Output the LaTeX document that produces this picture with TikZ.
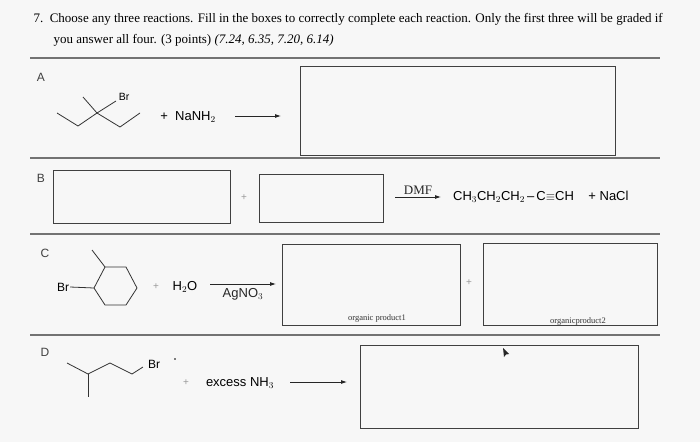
\documentclass[tikz,border=0pt]{standalone}
\usepackage{fontspec}
\usetikzlibrary{arrows.meta}
\setmainfont{Liberation Serif}
\setsansfont{Liberation Sans}
\begin{document}
\begin{tikzpicture}[x=1pt,y=-1pt,
  bx/.style={draw=black!75,line width=0.9pt},
  sep/.style={draw=black!55,line width=1.3pt},
  bnd/.style={draw=black!80,line width=0.8pt},
  rx/.style={-{Latex[length=6pt,width=4pt]},line width=0.8pt,black!85},
  ch/.style={font=\sffamily\fontsize{13}{15}\selectfont,inner sep=1pt},
  lb/.style={font=\sffamily\fontsize{12}{14}\selectfont,black!75},
  gp/.style={font=\sffamily\fontsize{10}{12}\selectfont,black!40},
  sm/.style={font=\fontsize{8.5}{9}\selectfont,black!80}]
\useasboundingbox[fill=black!3] (0,0) rectangle (700,442);
\node[anchor=west,font=\fontsize{13}{15}\selectfont] (t1) at (30,19) {7.\ \ Choose any three reactions. Fill in the boxes to correctly complete each reaction. Only the first three will be graded if};
\node[anchor=west,font=\fontsize{13}{15}\selectfont] (t2) at (50,40) {you answer all four. (3 points) \textit{(7.24, 6.35, 7.20, 6.14)}};
\draw[sep] (30,58) -- (660,58);
\draw[sep] (30,158) -- (660,158);
\draw[sep] (30,234) -- (660,234);
\draw[sep] (30,335) -- (660,335);
% A
\node[lb] (la) at (41,77) {A};
\draw[bnd] (57,113) -- (78,126) -- (97,113) -- (120,127) -- (140,113);
\draw[bnd] (83,97) -- (97,113) -- (116,101);
\node[ch,font=\sffamily\fontsize{10.5}{12}\selectfont] (abr) at (124,97) {Br};
\node[ch] (ana) at (188,117) {+\ \ NaNH$_2$};
\coordinate (a1) at (235,116); \coordinate (a2) at (281,116);
\draw[rx] (a1) -- (a2);
\node[bx,minimum width=315,minimum height=89,anchor=north west] (boxa) at (300,66) {};
% B
\node[lb] (lbb) at (41,178) {B};
\node[bx,minimum width=177,minimum height=53,anchor=north west] (b1) at (53,170) {};
\node[gp] (bp) at (244,198) {+};
\node[bx,minimum width=124,minimum height=48,anchor=north west] (b2) at (259,174) {};
\coordinate (b3) at (395,197); \coordinate (b4) at (441,197);
\draw[rx] (b3) -- node[above=-1pt,font=\fontsize{13}{15}\selectfont] {DMF} (b4);
\node[ch,anchor=west] (bp2) at (452,197) {CH$_3$CH$_2$CH$_2$\,\textendash\,C$\equiv$CH\ \ \ \ +\ NaCl};
% C
\node[lb] (lc) at (45,253) {C};
\node[ch,font=\sffamily\fontsize{12}{13}\selectfont] (cbr) at (63,287) {Br};
\draw[bnd] (cbr.east) -- (94,288);
\draw[bnd] (94,288) -- (105,267) -- (126,267) -- (137,288) -- (126,305) -- (105,305) -- cycle;
\draw[bnd] (105,267) -- (92,250);
\node[gp] (cp) at (156,287) {+};
\node[ch] (cw) at (185,287) {H$_2$O};
\coordinate (c1) at (210,284); \coordinate (c2) at (276,284);
\draw[rx] (c1) -- node[below=3pt,ch] {AgNO$_3$} (c2);
\node[bx,minimum width=178,minimum height=81,anchor=north west] (bc1) at (282,244) {};
\node[sm] (cl1) at (377,318) {organic product1};
\node[gp] (cp2) at (469,283) {+};
\node[bx,minimum width=174,minimum height=82,anchor=north west] (bc2) at (483,243) {};
\node[sm] (cl2) at (578,321) {organicproduct2};
% D
\node[lb] (ld) at (45,352) {D};
\draw[bnd] (67,363) -- (88,374) -- (110,363) -- (132,374) -- (143,367);
\draw[bnd] (88,374) -- (88,397);
\node[ch,font=\sffamily\fontsize{12}{13}\selectfont] (dbr) at (154,364) {Br};
\fill (175,359) circle (0.9);
\node[gp] (dp) at (186,383) {+};
\node[ch] (dn) at (240,383) {excess NH$_3$};
\coordinate (d1) at (290,382); \coordinate (d2) at (347,382);
\draw[rx] (d1) -- (d2);
\node[bx,minimum width=278,minimum height=83,anchor=north west] (bd) at (360,345) {};
\fill[black!85] (503,348) -- (509,354) -- (506,354.5) -- (504,357) -- cycle;
\end{tikzpicture}
\end{document}
